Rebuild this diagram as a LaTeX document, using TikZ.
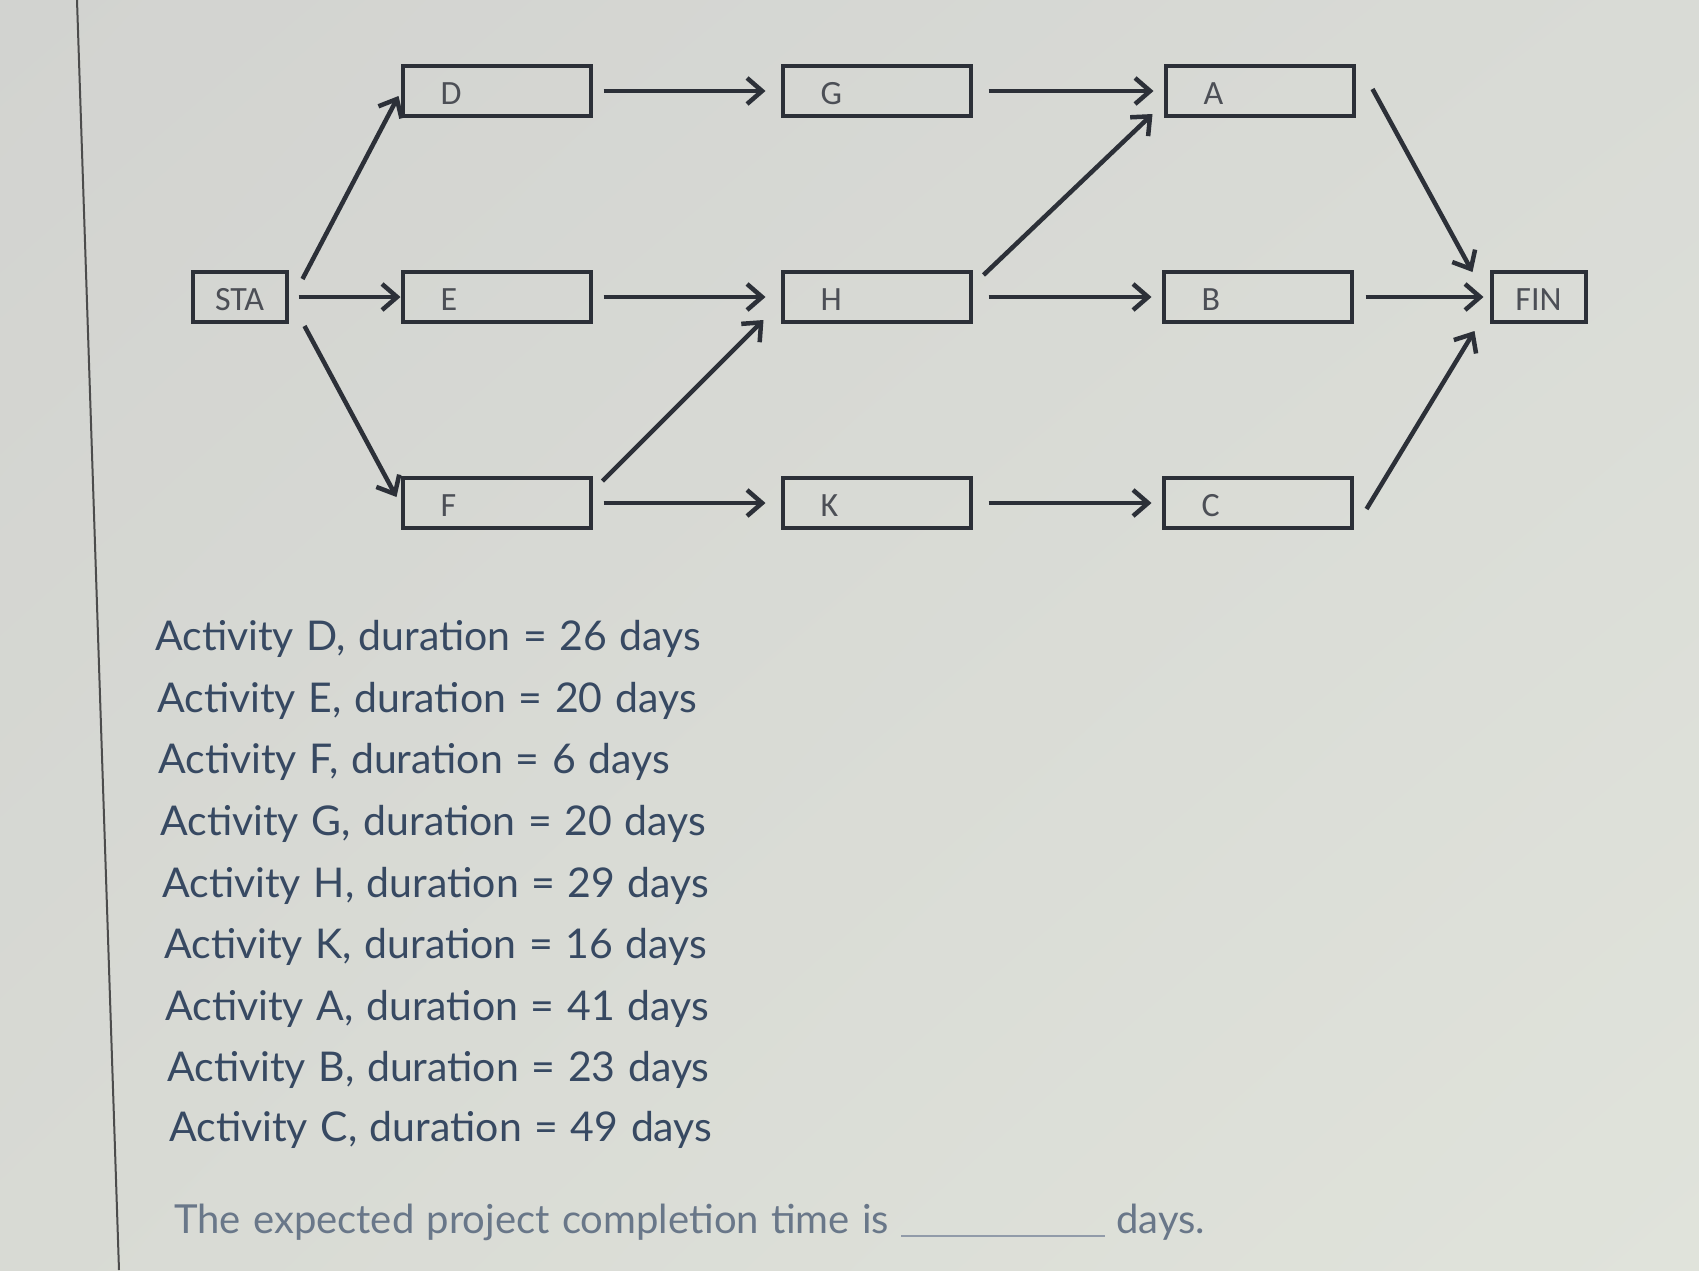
\documentclass[tikz,border=0pt]{standalone}
\usepackage{fontspec}
\setmainfont{Lato}[WordSpace=1.2]
\newfontfamily\boxfont{Carlito}
\usetikzlibrary{arrows.meta, positioning, shadings}

\definecolor{paperA}{HTML}{D2D3D0}
\definecolor{paperB}{HTML}{D9DBD6}
\definecolor{paperC}{HTML}{D8DAD4}
\definecolor{paperD}{HTML}{E0E3DB}
\definecolor{ink}{HTML}{2C3038}
\definecolor{txt}{HTML}{374962}

\begin{document}
\begin{tikzpicture}[
  x=1pt, y=-1pt,
  node distance=152pt and 188pt,
  endbox/.style={rectangle, draw=ink, line width=4pt, minimum width=94pt, minimum height=50pt, inner sep=0pt, text height=26pt, text depth=0pt, text=ink!85, font=\boxfont\fontsize{34}{34}\selectfont},
  box/.style={endbox, minimum width=188pt, text width=112pt, inner xsep=38pt, align=left},
  arrow/.style={-{Straight Barb[length=15pt, width=26pt]}, line width=4.5pt, draw=ink},
  link/.style={arrow, shorten <=12pt, shorten >=12pt},
  info/.style={anchor=base west, inner sep=0pt, text=txt, font=\fontsize{41}{41}\selectfont},
]

\shade[upper left=paperA, upper right=paperB, lower left=paperC, lower right=paperD] (0,0) rectangle (1699,1270);
\useasboundingbox (0,0) rectangle (1699,1270);
\draw[gray!60!black, line width=2pt] (77,0) -- (119,1270);

% Network
\node[endbox] (sta) at (239.5,297) {STA};
\node[box, right=112pt of sta] (e) {E};
\node[box, above=of e] (d) {D};
\node[box, below=of e] (f) {F};
\node[box, right=of d] (g) {G};
\node[box, right=of e] (h) {H};
\node[box, right=of f] (k) {K};
\node[box, right=191pt of g] (a) {A};
\node[box, right=189pt of h] (b) {B};
\node[box, right=189pt of k] (c) {C};
\node[endbox, right=136pt of b] (fin) {FIN};

% Connections
\draw[link, shorten <=10pt, shorten >=0pt] (sta) -- (e);
\draw[arrow] ([xshift=14pt,yshift=18pt]sta.east) -- ([xshift=-2pt,yshift=-5pt]d.west);
\draw[arrow] ([xshift=16pt,yshift=-29pt]sta.east) -- ([xshift=-4pt,yshift=6pt]f.west);

\draw[link, shorten <=11pt, shorten >=15pt] (d) -- (g);
\draw[link, shorten <=11pt, shorten >=15pt] (e) -- (h);
\draw[link, shorten <=11pt, shorten >=15pt] (f) -- (k);
\draw[arrow] ([xshift=10pt,yshift=-5pt]f.north east) -- ([xshift=-17pt,yshift=4pt]h.south west);

\draw[link, shorten <=16pt, shorten >=10pt] (g) -- (a);
\draw[link, shorten <=16pt, shorten >=10pt] (h) -- (b);
\draw[link, shorten <=16pt, shorten >=10pt] (k) -- (c);
\draw[arrow] ([xshift=11pt,yshift=-5pt]h.north east) -- ([xshift=-11pt,yshift=4pt]a.south west);

\draw[arrow] ([xshift=17pt,yshift=2pt]a.east) -- ([xshift=-17pt,yshift=-2pt]fin.north west);
\draw[link, shorten >=6pt] (b) -- (fin);
\draw[arrow] ([xshift=13pt,yshift=-6pt]c.east) -- ([xshift=-15pt,yshift=-7pt]fin.south west);

% Durations
\node[info] (act-d) at (155,650) {Activity D, duration = 26 days};
\node[info] (act-e) at (157,712) {Activity E, duration = 20 days};
\node[info] (act-f) at (158,773) {Activity F, duration = 6 days};
\node[info] (act-g) at (160,835) {Activity G, duration = 20 days};
\node[info] (act-h) at (162,897) {Activity H, duration = 29 days};
\node[info] (act-k) at (164,958) {Activity K, duration = 16 days};
\node[info] (act-a) at (165,1020) {Activity A, duration = 41 days};
\node[info] (act-b) at (167,1081) {Activity B, duration = 23 days};
\node[info] (act-c) at (169,1141) {Activity C, duration = 49 days};

\node[info, text=txt!75, font=\fontsize{40}{40}\selectfont] (question) at (174,1233) {The expected project completion time is \textcolor{txt!55}{\rule[-4pt]{204pt}{2pt}}\hspace{11pt}days.};

\end{tikzpicture}
\end{document}
